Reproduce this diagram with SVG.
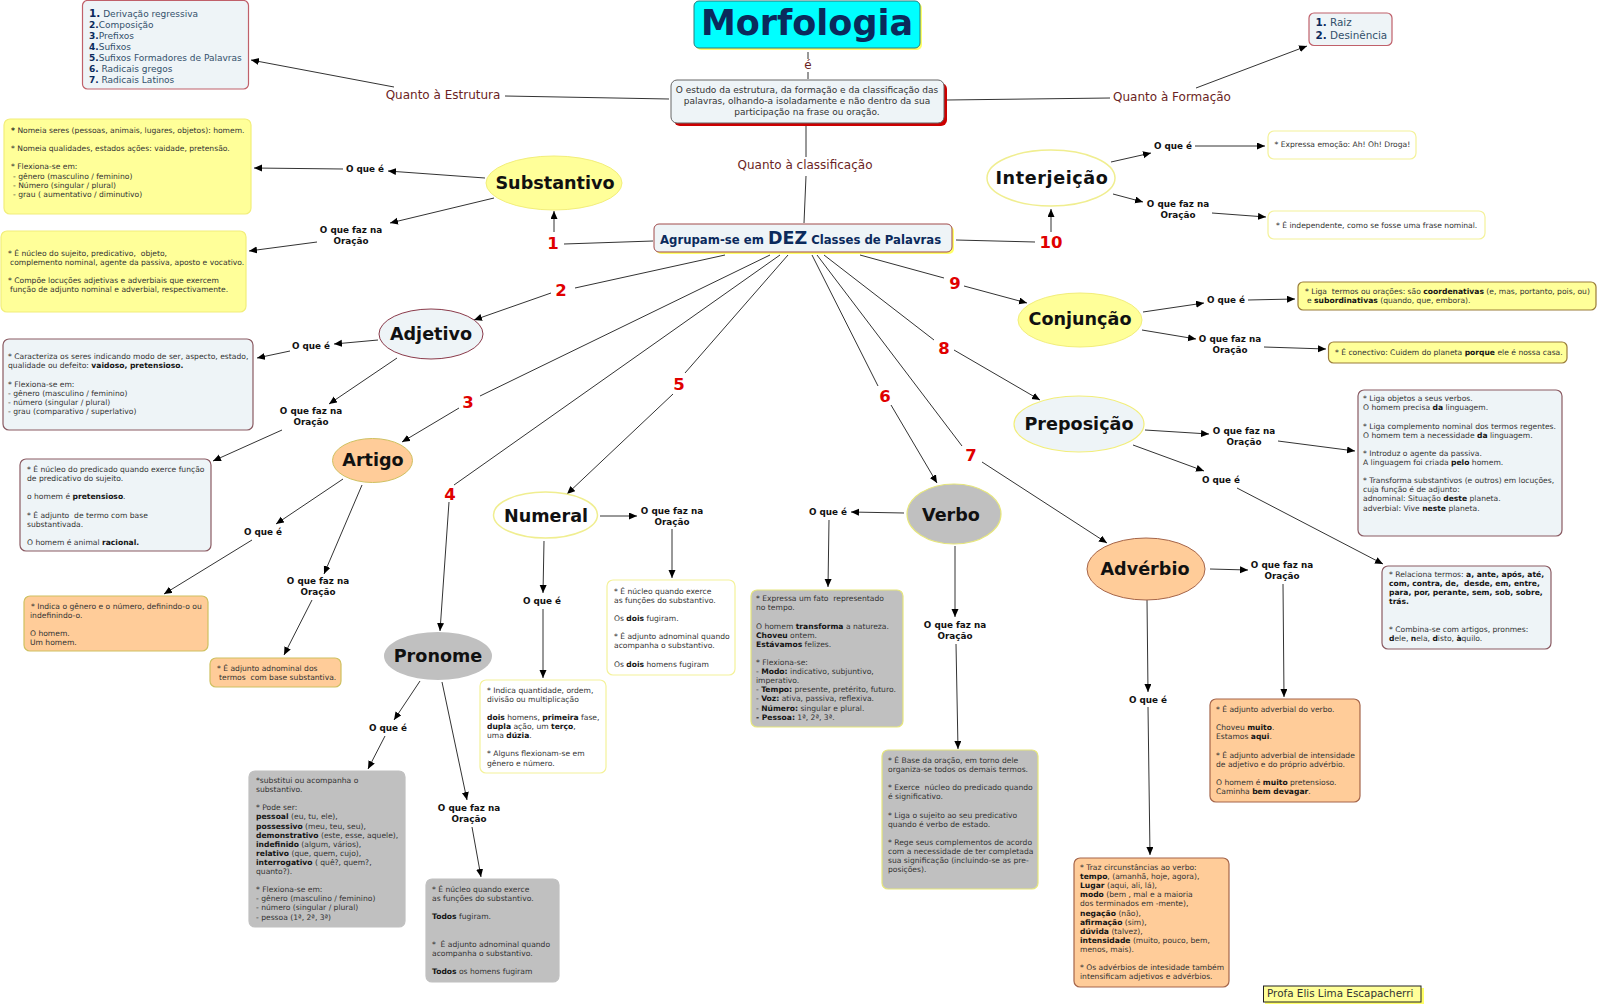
<svg xmlns="http://www.w3.org/2000/svg" width="1600" height="1006" viewBox="0 0 1600 1006">
<style>
text{font-family:"DejaVu Sans",Verdana,sans-serif;white-space:pre}
.t{font-size:7.6px;fill:#333}
.t tspan.b,.b{font-weight:bold;fill:#151515}
.q{font-size:8.8px;font-weight:bold;fill:#111;text-anchor:middle}
.r{font-size:12px;fill:#6b1f24;text-anchor:middle}
.n{font-size:16.5px;font-weight:bold;fill:#e00000;text-anchor:middle}
.h{font-size:17.6px;font-weight:bold;fill:#111;text-anchor:middle}
.l{font-size:9px;fill:#33506b}
.l .k{font-weight:bold;fill:#0b2a5c}
.c line{stroke:#333;stroke-width:1;fill:none}
.a{marker-end:url(#ah)}
.bx{stroke-width:1.2}
.ly{fill:#ffff99;stroke:#f2ee7a}
.lb{fill:#eef4f7;stroke:#8a5a62}
.lo{fill:#ffcc99;stroke:#a5654a}
.loy{fill:#ffcc99;stroke:#cfc060}
.lw{fill:#fff;stroke:#f4f29a}
.lg{fill:#c0c0c0;stroke:#e6e67c}
.lg0{fill:#c0c0c0;stroke:#c0c0c0}
.lyb{fill:#ffff99;stroke:#9a7d3a}
</style>
<defs>
<marker id="ah" markerUnits="userSpaceOnUse" markerWidth="9" markerHeight="8" refX="8" refY="3.5" orient="auto"><path d="M0 0L8 3.5L0 7Z" fill="#000"/></marker>
</defs>
<rect width="1600" height="1006" fill="#fff"/>
<g id="connectors" class="c">
<line x1="808" y1="52" x2="808" y2="59"/><line x1="808" y1="72" x2="808" y2="79"/>
<line x1="806" y1="126" x2="806" y2="157"/><line x1="806" y1="176" x2="804" y2="223"/>
<line x1="505" y1="96" x2="669" y2="99"/><line class="a" x1="394" y1="87" x2="251" y2="60"/>
<line x1="947" y1="100" x2="1110" y2="98"/><line class="a" x1="1196" y1="88" x2="1307" y2="46"/>
<line class="a" x1="485" y1="178" x2="388" y2="171"/><line class="a" x1="343" y1="169" x2="254" y2="168"/>
<line class="a" x1="494" y1="198" x2="390" y2="223"/><line class="a" x1="317" y1="242" x2="249" y2="251"/>
<line x1="564" y1="244" x2="653" y2="241"/><line class="a" x1="554" y1="232" x2="554" y2="211"/>
<line x1="956" y1="240" x2="1035" y2="242"/><line class="a" x1="1051" y1="232" x2="1051" y2="209"/>
<line class="a" x1="1111" y1="162" x2="1151" y2="153"/><line class="a" x1="1195" y1="146" x2="1265" y2="146"/>
<line class="a" x1="1113" y1="194" x2="1143" y2="202"/><line class="a" x1="1212" y1="213" x2="1266" y2="217"/>
<line x1="725" y1="255" x2="575" y2="288"/><line class="a" x1="551" y1="293" x2="474" y2="320"/>
<line class="a" x1="378" y1="340" x2="334" y2="344"/><line class="a" x1="290" y1="351" x2="257" y2="358"/>
<line class="a" x1="397" y1="358" x2="329" y2="404"/><line class="a" x1="282" y1="430" x2="213" y2="461"/>
<line x1="770" y1="255" x2="480" y2="396"/><line class="a" x1="459" y1="408" x2="402" y2="442"/>
<line class="a" x1="343" y1="479" x2="276" y2="524"/><line class="a" x1="252" y1="540" x2="164" y2="594"/>
<line class="a" x1="362" y1="485" x2="324" y2="574"/><line class="a" x1="312" y1="600" x2="284" y2="655"/>
<line x1="780" y1="255" x2="454" y2="485"/><line class="a" x1="449" y1="502" x2="440" y2="631"/>
<line class="a" x1="420" y1="681" x2="394" y2="720"/><line class="a" x1="385" y1="736" x2="368" y2="769"/>
<line class="a" x1="442" y1="682" x2="467" y2="800"/><line class="a" x1="472" y1="827" x2="481" y2="877"/>
<line x1="788" y1="255" x2="685" y2="373"/><line class="a" x1="673" y1="394" x2="567" y2="494"/>
<line class="a" x1="600" y1="516" x2="637" y2="516"/><line class="a" x1="672" y1="529" x2="672" y2="578"/>
<line class="a" x1="544" y1="541" x2="543" y2="593"/><line class="a" x1="543" y1="609" x2="543" y2="678"/>
<line x1="812" y1="255" x2="878" y2="386"/><line class="a" x1="891" y1="405" x2="937" y2="483"/>
<line class="a" x1="904" y1="513" x2="851" y2="512"/><line class="a" x1="829" y1="520" x2="828" y2="587"/>
<line class="a" x1="955" y1="546" x2="955" y2="617"/><line class="a" x1="956" y1="644" x2="958" y2="749"/>
<line x1="817" y1="255" x2="962" y2="446"/><line class="a" x1="982" y1="462" x2="1107" y2="543"/>
<line class="a" x1="1210" y1="569" x2="1248" y2="570"/><line class="a" x1="1283" y1="584" x2="1284" y2="697"/>
<line class="a" x1="1147" y1="600" x2="1148" y2="692"/><line class="a" x1="1148" y1="707" x2="1150" y2="855"/>
<line x1="824" y1="255" x2="934" y2="340"/><line class="a" x1="954" y1="350" x2="1040" y2="400"/>
<line class="a" x1="1145" y1="430" x2="1209" y2="434"/><line class="a" x1="1278" y1="441" x2="1355" y2="451"/>
<line class="a" x1="1133" y1="445" x2="1204" y2="471"/><line class="a" x1="1237" y1="488" x2="1383" y2="564"/>
<line x1="860" y1="255" x2="944" y2="278"/><line class="a" x1="964" y1="286" x2="1027" y2="303"/>
<line class="a" x1="1143" y1="312" x2="1204" y2="303"/><line class="a" x1="1248" y1="300" x2="1295" y2="299"/>
<line class="a" x1="1142" y1="330" x2="1196" y2="339"/><line class="a" x1="1264" y1="347" x2="1326" y2="349"/>
</g>
<g id="connector-labels">
<text class="r" x="808" y="69">é</text>
<text class="r" x="805" y="169">Quanto à classificação</text>
<text class="r" x="443" y="99">Quanto à Estrutura</text>
<text class="r" x="1172" y="101">Quanto à Formação</text>
<text class="n" x="553" y="249">1</text><text class="n" x="561" y="296">2</text><text class="n" x="468" y="408">3</text><text class="n" x="450" y="500">4</text><text class="n" x="679" y="390">5</text><text class="n" x="885" y="402">6</text><text class="n" x="971" y="461">7</text><text class="n" x="944" y="354">8</text><text class="n" x="955" y="289">9</text><text class="n" x="1051" y="248">10</text>
<text class="q" x="365" y="172">O que é</text>
<text class="q" x="351" y="233">O que faz na<tspan x="351" dy="11">Oração</tspan></text>
<text class="q" x="311" y="349">O que é</text>
<text class="q" x="311" y="414">O que faz na<tspan x="311" dy="11">Oração</tspan></text>
<text class="q" x="263" y="535">O que é</text>
<text class="q" x="318" y="584">O que faz na<tspan x="318" dy="11">Oração</tspan></text>
<text class="q" x="388" y="731">O que é</text>
<text class="q" x="469" y="811">O que faz na<tspan x="469" dy="11">Oração</tspan></text>
<text class="q" x="542" y="604">O que é</text>
<text class="q" x="672" y="514">O que faz na<tspan x="672" dy="11">Oração</tspan></text>
<text class="q" x="828" y="515">O que é</text>
<text class="q" x="955" y="628">O que faz na<tspan x="955" dy="11">Oração</tspan></text>
<text class="q" x="1148" y="703">O que é</text>
<text class="q" x="1282" y="568">O que faz na<tspan x="1282" dy="11">Oração</tspan></text>
<text class="q" x="1244" y="434">O que faz na<tspan x="1244" dy="11">Oração</tspan></text>
<text class="q" x="1221" y="483">O que é</text>
<text class="q" x="1226" y="303">O que é</text>
<text class="q" x="1230" y="342">O que faz na<tspan x="1230" dy="11">Oração</tspan></text>
<text class="q" x="1173" y="149">O que é</text>
<text class="q" x="1178" y="207">O que faz na<tspan x="1178" dy="11">Oração</tspan></text>
</g>
<g id="morfologia">
<rect x="696" y="3" width="226" height="47" rx="5" fill="#ffff66"/>
<rect x="694" y="1" width="226" height="47" rx="5" fill="#00ffff" stroke="#2c7a7a"/>
<text x="807" y="35" text-anchor="middle" font-size="35" font-weight="bold" fill="#0b2a5c">Morfologia</text>
</g>
<g id="definicao">
<rect x="674" y="83" width="273" height="43" rx="6" fill="#cc0000"/>
<rect x="671" y="80" width="273" height="43" rx="6" fill="#eef4f7" stroke="#666"/>
<text x="807" y="92.5" text-anchor="middle" font-size="9" fill="#333">O estudo da estrutura, da formação e da classificação das<tspan x="807" dy="11">palavras, olhando-a isoladamente e não dentro da sua</tspan><tspan x="807" dy="11">participação na frase ou oração.</tspan></text>
</g>
<g id="agrupam">
<rect x="656" y="226" width="298" height="28" rx="5" fill="#ffff66"/>
<rect x="654" y="224" width="298" height="28" rx="5" fill="#eef4f7" stroke="#a04a4a"/>
<text x="660" y="243.5" font-size="11.7" font-weight="bold" fill="#0b2a5c">Agrupam-se em <tspan font-size="17.5">DEZ</tspan> Classes de Palavras</text>
</g>
<g id="estrutura">
<rect class="bx" x="82.5" y="0.5" width="166" height="88.5" rx="5" fill="#eef4f7" stroke="#c0606a"/>
<text class="l" x="89" y="17"><tspan class="k" font-size="10.5">1.</tspan> Derivação regressiva<tspan x="89" y="28" class="k">2.</tspan>Composição<tspan x="89" y="39" class="k">3.</tspan>Prefixos<tspan x="89" y="50" class="k">4.</tspan>Sufixos<tspan x="89" y="60.6" class="k">5.</tspan>Sufixos Formadores de Palavras<tspan x="89" y="71.6" class="k">6.</tspan> Radicais gregos<tspan x="89" y="82.6" class="k">7.</tspan> Radicais Latinos</text>
</g>
<g id="formacao">
<rect class="bx" x="1309" y="13" width="83" height="32.500" rx="5" fill="#eef4f7" stroke="#c0606a"/>
<text x="1315.5" y="26" font-size="10.4" fill="#33506b"><tspan font-weight="bold" fill="#0b2a5c">1.</tspan> Raiz<tspan x="1315.5" y="38.7" font-weight="bold" fill="#0b2a5c">2.</tspan> Desinência</text>
</g>
<g id="substantivo">
<ellipse cx="554" cy="183" rx="68" ry="27" fill="#ffff99" stroke="#f2ee7a"/>
<text class="h" x="555" y="189">Substantivo</text>
<rect class="bx ly" x="4" y="119" width="247" height="95" rx="6"/>
<text class="t" x="11" y="133"><tspan class="b">*</tspan> Nomeia seres (pessoas, animais, lugares, objetos): homem.<tspan x="11" dy="18.2">* Nomeia qualidades, estados ações: vaidade, pretensão.</tspan><tspan x="11" dy="18.2">* Flexiona-se em:</tspan><tspan x="13" dy="9.1">- gênero (masculino / feminino)</tspan><tspan x="13" dy="9.1">- Número (singular / plural)</tspan><tspan x="13" dy="9.1">- grau ( aumentativo / diminutivo)</tspan></text>
<rect class="bx ly" x="1" y="231" width="245" height="81" rx="6"/>
<text class="t" x="8" y="256">* É núcleo do sujeito, predicativo,  objeto,<tspan x="10" dy="9.1">complemento nominal, agente da passiva, aposto e vocativo.</tspan><tspan x="8" dy="18.2">* Compõe locuções adjetivas e adverbiais que exercem</tspan><tspan x="10" dy="9.1">função de adjunto nominal e adverbial, respectivamente.</tspan></text>
</g>
<g id="adjetivo">
<ellipse cx="431" cy="334" rx="52" ry="25" fill="#eef4f7" stroke="#8a3a4a"/>
<text class="h" x="431" y="340">Adjetivo</text>
<rect class="bx lb" x="3" y="339" width="250" height="91" rx="6"/>
<text class="t" x="8" y="359.300">* Caracteriza os seres indicando modo de ser, aspecto, estado,<tspan x="8" dy="9.1">qualidade ou defeito: <tspan class="b">vaidoso, pretensioso.</tspan></tspan><tspan x="8" dy="18.2">* Flexiona-se em:</tspan><tspan x="8" dy="9.1">- gênero (masculino / feminino)</tspan><tspan x="8" dy="9.1">- número (singular / plural)</tspan><tspan x="8" dy="9.1">- grau (comparativo / superlativo)</tspan></text>
<rect class="bx lb" x="20" y="459" width="191" height="92" rx="6"/>
<text class="t" x="27" y="472">* É núcleo do predicado quando exerce função<tspan x="27" dy="9.1">de predicativo do sujeito.</tspan><tspan x="27" dy="18.2">o homem é <tspan class="b">pretensioso</tspan>.</tspan><tspan x="27" dy="18.2">* É adjunto  de termo com base</tspan><tspan x="27" dy="9.1">substantivada.</tspan><tspan x="27" dy="18.2">O homem é animal <tspan class="b">racional.</tspan></tspan></text>
</g>
<g id="artigo">
<ellipse cx="372.500" cy="460.500" rx="40" ry="22" fill="#ffcc99" stroke="#cfc060"/>
<text class="h" x="373" y="466">Artigo</text>
<rect class="bx loy" x="24" y="596" width="184" height="55" rx="6"/>
<text class="t" x="31" y="608.700">* Indica o gênero e o número, definindo-o ou<tspan x="30" dy="9.1">indefinindo-o.</tspan><tspan x="30" dy="18.2">O homem.</tspan><tspan x="30" dy="9.1">Um homem.</tspan></text>
<rect class="bx loy" x="210" y="658" width="131" height="29" rx="6"/>
<text class="t" x="217" y="671">* É adjunto adnominal dos<tspan x="219" dy="9.1">termos  com base substantiva.</tspan></text>
</g>
<g id="pronome">
<ellipse cx="438" cy="656" rx="54" ry="24" fill="#c0c0c0"/>
<text class="h" x="438" y="662">Pronome</text>
<rect class="bx lg0" x="249" y="771" width="156" height="156" rx="6"/>
<text class="t" x="256" y="783">*substitui ou acompanha o<tspan x="256" dy="9.1">substantivo.</tspan><tspan x="256" dy="18.2">* Pode ser:</tspan><tspan x="256" dy="9.1"><tspan class="b">pessoal</tspan> (eu, tu, ele),</tspan><tspan x="256" dy="9.1"><tspan class="b">possessivo</tspan> (meu, teu, seu),</tspan><tspan x="256" dy="9.1"><tspan class="b">demonstrativo</tspan> (este, esse, aquele),</tspan><tspan x="256" dy="9.1"><tspan class="b">indefinido</tspan> (algum, vários),</tspan><tspan x="256" dy="9.1"><tspan class="b">relativo</tspan> (que, quem, cujo),</tspan><tspan x="256" dy="9.1"><tspan class="b">interrogativo</tspan> ( quê?, quem?,</tspan><tspan x="256" dy="9.1">quanto?).</tspan><tspan x="256" dy="18.2">* Flexiona-se em:</tspan><tspan x="256" dy="9.1">- gênero (masculino / feminino)</tspan><tspan x="256" dy="9.1">- número (singular / plural)</tspan><tspan x="256" dy="9.1">- pessoa (1ª, 2ª, 3ª)</tspan></text>
<rect class="bx lg0" x="426" y="879" width="133" height="103" rx="6"/>
<text class="t" x="432" y="892">* É núcleo quando exerce<tspan x="432" dy="9.1">as funções do substantivo.</tspan><tspan x="432" dy="18.2"><tspan class="b">Todos</tspan> fugiram.</tspan><tspan x="432" dy="27.300">*  É adjunto adnominal quando</tspan><tspan x="432" dy="9.1">acompanha o substantivo.</tspan><tspan x="432" dy="18.2"><tspan class="b">Todos</tspan> os homens fugiram</tspan></text>
</g>
<g id="numeral">
<ellipse cx="545.500" cy="515" rx="52" ry="23" fill="#fff" stroke="#f0ee90" stroke-width="1.5"/>
<text class="h" x="546" y="522">Numeral</text>
<rect class="bx lw" x="480" y="680" width="126" height="93" rx="6"/>
<text class="t" x="487" y="692.700">* Indica quantidade, ordem,<tspan x="487" dy="9.1">divisão ou multiplicação</tspan><tspan x="487" dy="18.2"><tspan class="b">dois</tspan> homens, <tspan class="b">primeira</tspan> fase,</tspan><tspan x="487" dy="9.1"><tspan class="b">dupla</tspan> ação, um <tspan class="b">terço</tspan>,</tspan><tspan x="487" dy="9.1">uma <tspan class="b">dúzia</tspan>.</tspan><tspan x="487" dy="18.2">* Alguns flexionam-se em</tspan><tspan x="487" dy="9.1">gênero e número.</tspan></text>
<rect class="bx lw" x="607" y="580" width="128" height="95" rx="6"/>
<text class="t" x="614" y="593.700">* É núcleo quando exerce<tspan x="614" dy="9.1">as funções do substantivo.</tspan><tspan x="614" dy="18.2">Os <tspan class="b">dois</tspan> fugiram.</tspan><tspan x="614" dy="18.2">* É adjunto adnominal quando</tspan><tspan x="614" dy="9.1">acompanha o substantivo.</tspan><tspan x="614" dy="18.2">Os <tspan class="b">dois</tspan> homens fugiram</tspan></text>
</g>
<g id="verbo">
<ellipse cx="954" cy="514" rx="47" ry="30" fill="#c0c0c0" stroke="#e6e67c" stroke-width="1.2"/>
<text class="h" x="951" y="521">Verbo</text>
<rect class="bx lg" x="751" y="590" width="152" height="137" rx="6"/>
<text class="t" x="756" y="601.300">* Expressa um fato  representado<tspan x="756" dy="9.1">no tempo.</tspan><tspan x="756" dy="18.2">O homem <tspan class="b">transforma</tspan> a natureza.</tspan><tspan x="756" dy="9.1"><tspan class="b">Choveu</tspan> ontem.</tspan><tspan x="756" dy="9.1"><tspan class="b">Estávamos</tspan> felizes.</tspan><tspan x="756" dy="18.2">* Flexiona-se:</tspan><tspan x="756" dy="9.1">- <tspan class="b">Modo:</tspan> indicativo, subjuntivo,</tspan><tspan x="756" dy="9.1">imperativo.</tspan><tspan x="756" dy="9.1">- <tspan class="b">Tempo:</tspan> presente, pretérito, futuro.</tspan><tspan x="756" dy="9.1">- <tspan class="b">Voz:</tspan> ativa, passiva, reflexiva.</tspan><tspan x="756" dy="9.1">- <tspan class="b">Número:</tspan> singular e plural.</tspan><tspan x="756" dy="9.1"><tspan class="b">- Pessoa:</tspan> 1ª, 2ª, 3ª.</tspan></text>
<rect class="bx lg" x="882" y="750" width="156" height="139" rx="6"/>
<text class="t" x="888" y="763">* É Base da oração, em torno dele<tspan x="888" dy="9.1">organiza-se todos os demais termos.</tspan><tspan x="888" dy="18.2">* Exerce  núcleo do predicado quando</tspan><tspan x="888" dy="9.1">é significativo.</tspan><tspan x="888" dy="18.2">* Liga o sujeito ao seu predicativo</tspan><tspan x="888" dy="9.1">quando é verbo de estado.</tspan><tspan x="888" dy="18.2">* Rege seus complementos de acordo</tspan><tspan x="888" dy="9.1">com a necessidade de ter completada</tspan><tspan x="888" dy="9.1">sua significação (incluindo-se as pre-</tspan><tspan x="888" dy="9.1">posições).</tspan></text>
</g>
<g id="adverbio">
<ellipse cx="1146" cy="569" rx="59" ry="31" fill="#ffcc99" stroke="#a5654a"/>
<text class="h" x="1145" y="575">Advérbio</text>
<rect class="bx lo" x="1210" y="699" width="150" height="103" rx="6"/>
<text class="t" x="1216" y="712">* É adjunto adverbial do verbo.<tspan x="1216" dy="18.2">Choveu <tspan class="b">muito</tspan>.</tspan><tspan x="1216" dy="9.1">Estamos <tspan class="b">aqui</tspan>.</tspan><tspan x="1216" dy="18.2">* É adjunto adverbial de intensidade</tspan><tspan x="1216" dy="9.1">de adjetivo e do próprio advérbio.</tspan><tspan x="1216" dy="18.2">O homem é <tspan class="b">muito</tspan> pretensioso.</tspan><tspan x="1216" dy="9.1">Caminha <tspan class="b">bem devagar</tspan>.</tspan></text>
<rect class="bx lo" x="1074" y="858" width="155" height="129" rx="6"/>
<text class="t" x="1080" y="870">* Traz circunstâncias ao verbo:<tspan x="1080" dy="9.1"><tspan class="b">tempo</tspan>, (amanhã, hoje, agora),</tspan><tspan x="1080" dy="9.1"><tspan class="b">Lugar</tspan> (aqui, ali, lá),</tspan><tspan x="1080" dy="9.1"><tspan class="b">modo</tspan> (bem , mal e a maioria</tspan><tspan x="1080" dy="9.1">dos terminados em -mente),</tspan><tspan x="1080" dy="9.1"><tspan class="b">negação</tspan> (não),</tspan><tspan x="1080" dy="9.1"><tspan class="b">afirmação</tspan> (sim),</tspan><tspan x="1080" dy="9.1"><tspan class="b">dúvida</tspan> (talvez),</tspan><tspan x="1080" dy="9.1"><tspan class="b">intensidade</tspan> (muito, pouco, bem,</tspan><tspan x="1080" dy="9.1">menos, mais).</tspan><tspan x="1080" dy="18.2">* Os advérbios de intesidade também</tspan><tspan x="1080" dy="9.1">intensificam adjetivos e advérbios.</tspan></text>
</g>
<g id="preposicao">
<ellipse cx="1079" cy="424" rx="65" ry="28" fill="#eef4f7" stroke="#f2ee7a" stroke-width="1.2"/>
<text class="h" x="1079" y="430">Preposição</text>
<rect class="bx lb" x="1358" y="390" width="204" height="146" rx="6"/>
<text class="t" x="1363" y="401.300">* Liga objetos a seus verbos.<tspan x="1363" dy="9.1">O homem precisa <tspan class="b">da</tspan> linguagem.</tspan><tspan x="1363" dy="18.2">* Liga complemento nominal dos termos regentes.</tspan><tspan x="1363" dy="9.1">O homem tem a necessidade <tspan class="b">da</tspan> linguagem.</tspan><tspan x="1363" dy="18.2">* Introduz o agente da passiva.</tspan><tspan x="1363" dy="9.1">A linguagem foi criada <tspan class="b">pelo</tspan> homem.</tspan><tspan x="1363" dy="18.2">* Transforma substantivos (e outros) em locuções,</tspan><tspan x="1363" dy="9.1">cuja função é de adjunto:</tspan><tspan x="1363" dy="9.1">adnominal: Situação <tspan class="b">deste</tspan> planeta.</tspan><tspan x="1363" dy="9.1">adverbial: Vive <tspan class="b">neste</tspan> planeta.</tspan></text>
<rect class="bx lb" x="1382" y="566" width="169" height="83" rx="6"/>
<text class="t" x="1389" y="577">* Relaciona termos: <tspan class="b">a, ante, após, até,</tspan><tspan class="b" x="1389" dy="9.1">com, contra, de,  desde, em, entre,</tspan><tspan class="b" x="1389" dy="9.1">para, por, perante, sem, sob, sobre,</tspan><tspan class="b" x="1389" dy="9.1">trás.</tspan><tspan x="1389" dy="27.300">* Combina-se com artigos, pronmes:</tspan><tspan x="1389" dy="9.1"><tspan class="b">d</tspan>ele, <tspan class="b">n</tspan>ela, <tspan class="b">d</tspan>isto, <tspan class="b">à</tspan>quilo.</tspan></text>
</g>
<g id="conjuncao">
<ellipse cx="1080" cy="320" rx="62" ry="27" fill="#ffff99" stroke="#f2ee7a"/>
<text class="h" x="1080" y="325">Conjunção</text>
<rect class="bx lyb" x="1298" y="282" width="298" height="28" rx="5"/>
<text class="t" x="1305" y="293.500">* Liga  termos ou orações: são <tspan class="b">coordenativas</tspan> (e, mas, portanto, pois, ou)<tspan x="1307" dy="9.1">e <tspan class="b">subordinativas</tspan> (quando, que, embora).</tspan></text>
<rect class="bx lyb" x="1328.500" y="342" width="238.500" height="21" rx="5"/>
<text class="t" x="1335" y="355">* É conectivo: Cuidem do planeta <tspan class="b">porque</tspan> ele é nossa casa.</text>
</g>
<g id="interjeicao">
<ellipse cx="1051" cy="178" rx="64" ry="28" fill="#fff" stroke="#f0ee90" stroke-width="1.5"/>
<text class="h" x="1052" y="183.500" letter-spacing="0.6">Interjeição</text>
<rect class="bx lw" x="1268" y="131" width="148" height="28" rx="6"/>
<text class="t" x="1274.500" y="147">* Expressa emoção: Ah! Oh! Droga!</text>
<rect class="bx lw" x="1268" y="211" width="217" height="28" rx="6"/>
<text class="t" x="1276" y="228">* É independente, como se fosse uma frase nominal.</text>
</g>
<g id="autora">
<rect x="1265" y="988" width="159" height="16" fill="#ffff66"/>
<rect x="1263.500" y="986" width="157.500" height="16" fill="#ffff99" stroke="#222"/>
<text x="1267" y="997" font-size="10.400" fill="#333">Profa Elis Lima Escapacherri</text>
</g>
</svg>
